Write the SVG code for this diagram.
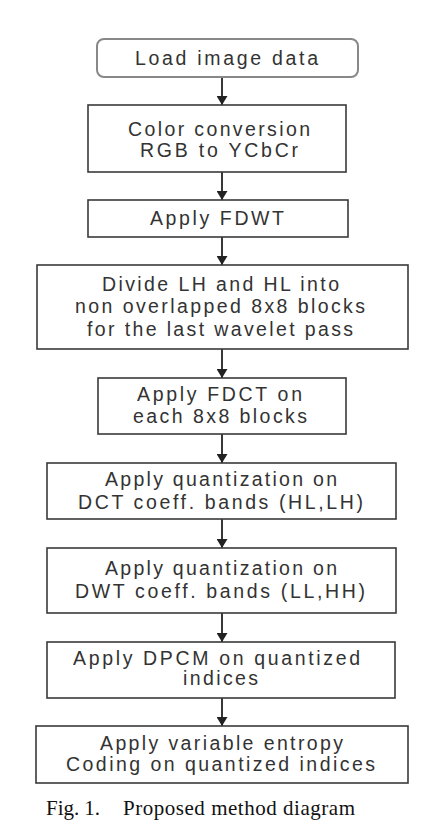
<svg xmlns="http://www.w3.org/2000/svg" width="446" height="840" viewBox="0 0 446 840">
<style>
.box{fill:#fff;stroke:#3a3a3a;stroke-width:1.6}
.rbox{fill:#fff;stroke:#888;stroke-width:2}
.t{font-family:"Liberation Sans",Arial,sans-serif;font-size:19.5px;fill:#333;text-anchor:start}
.cap{font-family:"Liberation Serif","Times New Roman",serif;font-size:21px;fill:#111}
.conn{stroke:#222;stroke-width:1.8;fill:none}
</style>
<defs>
<marker id="ah" markerWidth="9" markerHeight="11" refX="9" refY="5.5" orient="auto" markerUnits="userSpaceOnUse" viewBox="0 0 9 11">
<path d="M0,0 L9,5.5 L0,11 Z" fill="#222"/>
</marker>
</defs>
<rect width="446" height="840" fill="#fff"/>
<g id="connectors">
<line class="conn" x1="222" y1="77" x2="222" y2="105" marker-end="url(#ah)"/>
<line class="conn" x1="222" y1="172" x2="222" y2="200" marker-end="url(#ah)"/>
<line class="conn" x1="222" y1="237" x2="222" y2="265" marker-end="url(#ah)"/>
<line class="conn" x1="222" y1="349" x2="222" y2="378" marker-end="url(#ah)"/>
<line class="conn" x1="222" y1="434" x2="222" y2="463" marker-end="url(#ah)"/>
<line class="conn" x1="222" y1="519" x2="222" y2="548" marker-end="url(#ah)"/>
<line class="conn" x1="222" y1="613" x2="222" y2="642" marker-end="url(#ah)"/>
<line class="conn" x1="222" y1="698" x2="222" y2="726" marker-end="url(#ah)"/>
</g>
<g id="n1">
<rect class="rbox" x="97" y="39" width="261" height="38" rx="7"/>
<text class="t" x="135" y="65" textLength="183" lengthAdjust="spacing">Load image data</text>
</g>
<g id="n2">
<rect class="box" x="88" y="105" width="258" height="67"/>
<text class="t" x="128" y="136" textLength="182" lengthAdjust="spacing">Color conversion</text>
<text class="t" x="140" y="157" textLength="158" lengthAdjust="spacing">RGB to YCbCr</text>
</g>
<g id="n3">
<rect class="box" x="88" y="200" width="260" height="37"/>
<text class="t" x="150" y="225" textLength="134" lengthAdjust="spacing">Apply FDWT</text>
</g>
<g id="n4">
<rect class="box" x="37" y="265" width="371" height="84"/>
<text class="t" x="102" y="291" textLength="237" lengthAdjust="spacing">Divide LH and HL into</text>
<text class="t" x="75" y="313" textLength="290" lengthAdjust="spacing">non overlapped 8x8 blocks</text>
<text class="t" x="87" y="336" textLength="266" lengthAdjust="spacing">for the last wavelet pass</text>
</g>
<g id="n5">
<rect class="box" x="98" y="378" width="248" height="56"/>
<text class="t" x="137" y="401" textLength="165" lengthAdjust="spacing">Apply FDCT on</text>
<text class="t" x="133" y="423" textLength="174" lengthAdjust="spacing">each 8x8 blocks</text>
</g>
<g id="n6">
<rect class="box" x="47" y="463" width="349" height="56"/>
<text class="t" x="105" y="486" textLength="232" lengthAdjust="spacing">Apply quantization on</text>
<text class="t" x="78" y="509" textLength="285" lengthAdjust="spacing">DCT coeff. bands (HL,LH)</text>
</g>
<g id="n7">
<rect class="box" x="47" y="548" width="349" height="65"/>
<text class="t" x="105" y="575" textLength="232" lengthAdjust="spacing">Apply quantization on</text>
<text class="t" x="75" y="598" textLength="290" lengthAdjust="spacing">DWT coeff. bands (LL,HH)</text>
</g>
<g id="n8">
<rect class="box" x="47" y="642" width="348" height="56"/>
<text class="t" x="73" y="665" textLength="287" lengthAdjust="spacing">Apply DPCM on quantized</text>
<text class="t" x="183" y="685" textLength="75" lengthAdjust="spacing">indices</text>
</g>
<g id="n9">
<rect class="box" x="36" y="726" width="372" height="57"/>
<text class="t" x="100" y="750" textLength="243" lengthAdjust="spacing">Apply variable entropy</text>
<text class="t" x="66" y="771" textLength="309" lengthAdjust="spacing">Coding on quantized indices</text>
</g>
<g id="caption">
<text class="cap" x="46" y="815" textLength="54" lengthAdjust="spacing">Fig. 1.</text>
<text class="cap" x="123" y="815" textLength="232" lengthAdjust="spacing">Proposed method diagram</text>
</g>
</svg>
